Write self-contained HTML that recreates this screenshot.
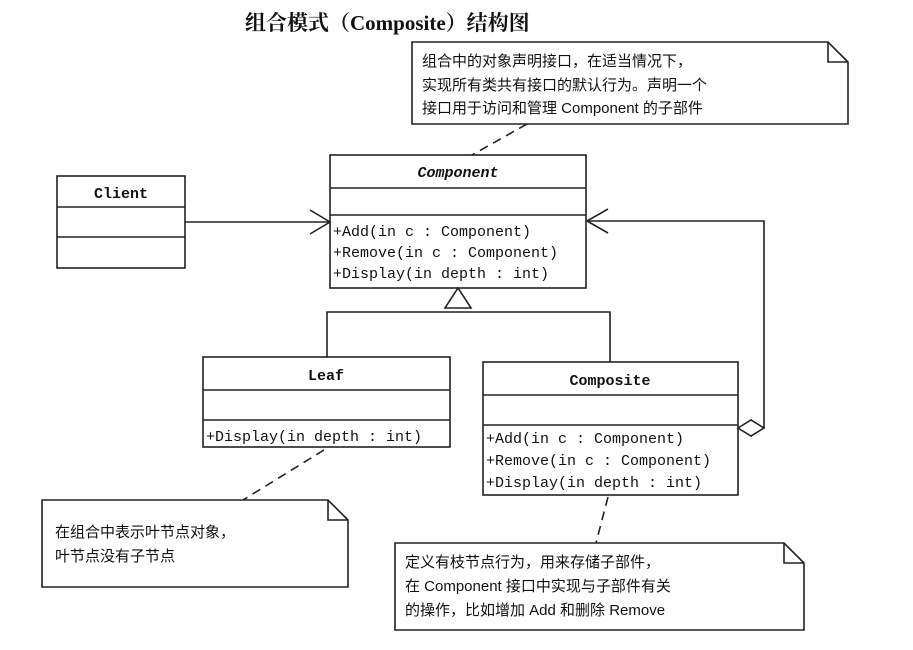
<!DOCTYPE html>
<html><head><meta charset="utf-8"><style>
body{margin:0;background:#fff;}
svg text{font-family:"Liberation Mono","Noto Sans CJK SC",monospace;font-size:15px;fill:#111;}
.cn{font-family:"Liberation Sans","Noto Sans CJK SC",sans-serif;}
</style></head><body>
<svg width="913" height="645" viewBox="0 0 913 645" xmlns="http://www.w3.org/2000/svg">
<g stroke="#222" stroke-width="1.6" fill="none">
<!-- title note -->
<path d="M412,42 H828 L848,62 V124 H412 Z"/><path d="M828,42 V62 H848"/>
<line x1="527" y1="124" x2="472" y2="155" stroke-dasharray="9,6"/>
<!-- Component -->
<rect x="330" y="155" width="256" height="133"/>
<line x1="330" y1="188" x2="586" y2="188"/><line x1="330" y1="215" x2="586" y2="215"/>
<!-- Client -->
<rect x="57" y="176" width="128" height="92"/>
<line x1="57" y1="207" x2="185" y2="207"/><line x1="57" y1="237" x2="185" y2="237"/>
<line x1="185" y1="222" x2="330" y2="222"/><path d="M310,210 L330,222 L310,234"/>
<!-- inheritance -->
<path d="M458,288 L445,308 H471 Z"/>
<path d="M327,357 V312 H610 V362"/>
<!-- Leaf -->
<rect x="203" y="357" width="247" height="90"/>
<line x1="203" y1="390" x2="450" y2="390"/><line x1="203" y1="420" x2="450" y2="420"/>
<!-- Composite -->
<rect x="483" y="362" width="255" height="133"/>
<line x1="483" y1="395" x2="738" y2="395"/><line x1="483" y1="425" x2="738" y2="425"/>
<!-- aggregation -->
<path d="M738,428 L751,420 L764,428 L751,436 Z"/>
<path d="M764,428 V221 H586"/><path d="M608,209 L587,221 L608,233"/>
<!-- leaf note -->
<path d="M42,500 H328 L348,520 V587 H42 Z"/><path d="M328,500 V520 H348"/>
<line x1="324" y1="450" x2="243" y2="500" stroke-dasharray="9,6"/>
<!-- composite note -->
<path d="M395,543 H784 L804,563 V630 H395 Z"/><path d="M784,543 V563 H804"/>
<line x1="608" y1="497" x2="596" y2="543" stroke-dasharray="9,6"/>
</g>
<text x="245" y="30" class="cn" style="font-size:21px;font-weight:bold;font-family:'Liberation Serif','Noto Serif CJK SC',serif">组合模式（Composite）结构图</text>
<text x="422" y="66" class="cn" style="font-size:15px">组合中的对象声明接口，在适当情况下，</text>
<text x="422" y="90" class="cn" style="font-size:15px">实现所有类共有接口的默认行为。声明一个</text>
<text x="422" y="113" class="cn" style="font-size:15px">接口用于访问和管理 Component 的子部件</text>
<text x="458" y="177" text-anchor="middle" font-style="italic" font-weight="bold">Component</text>
<text x="333" y="236">+Add(in c : Component)</text>
<text x="333" y="257">+Remove(in c : Component)</text>
<text x="333" y="278">+Display(in depth : int)</text>
<text x="121" y="198" text-anchor="middle" font-weight="bold">Client</text>
<text x="326" y="380" text-anchor="middle" font-weight="bold">Leaf</text>
<text x="206" y="441">+Display(in depth : int)</text>
<text x="610" y="385" text-anchor="middle" font-weight="bold">Composite</text>
<text x="486" y="443">+Add(in c : Component)</text>
<text x="486" y="465">+Remove(in c : Component)</text>
<text x="486" y="487">+Display(in depth : int)</text>
<text x="55" y="537" class="cn">在组合中表示叶节点对象，</text>
<text x="55" y="561" class="cn">叶节点没有子节点</text>
<text x="405" y="567" class="cn">定义有枝节点行为，用来存储子部件，</text>
<text x="405" y="591" class="cn">在 Component 接口中实现与子部件有关</text>
<text x="405" y="615" class="cn">的操作，比如增加 Add 和删除 Remove</text>
</svg>
</body></html>
